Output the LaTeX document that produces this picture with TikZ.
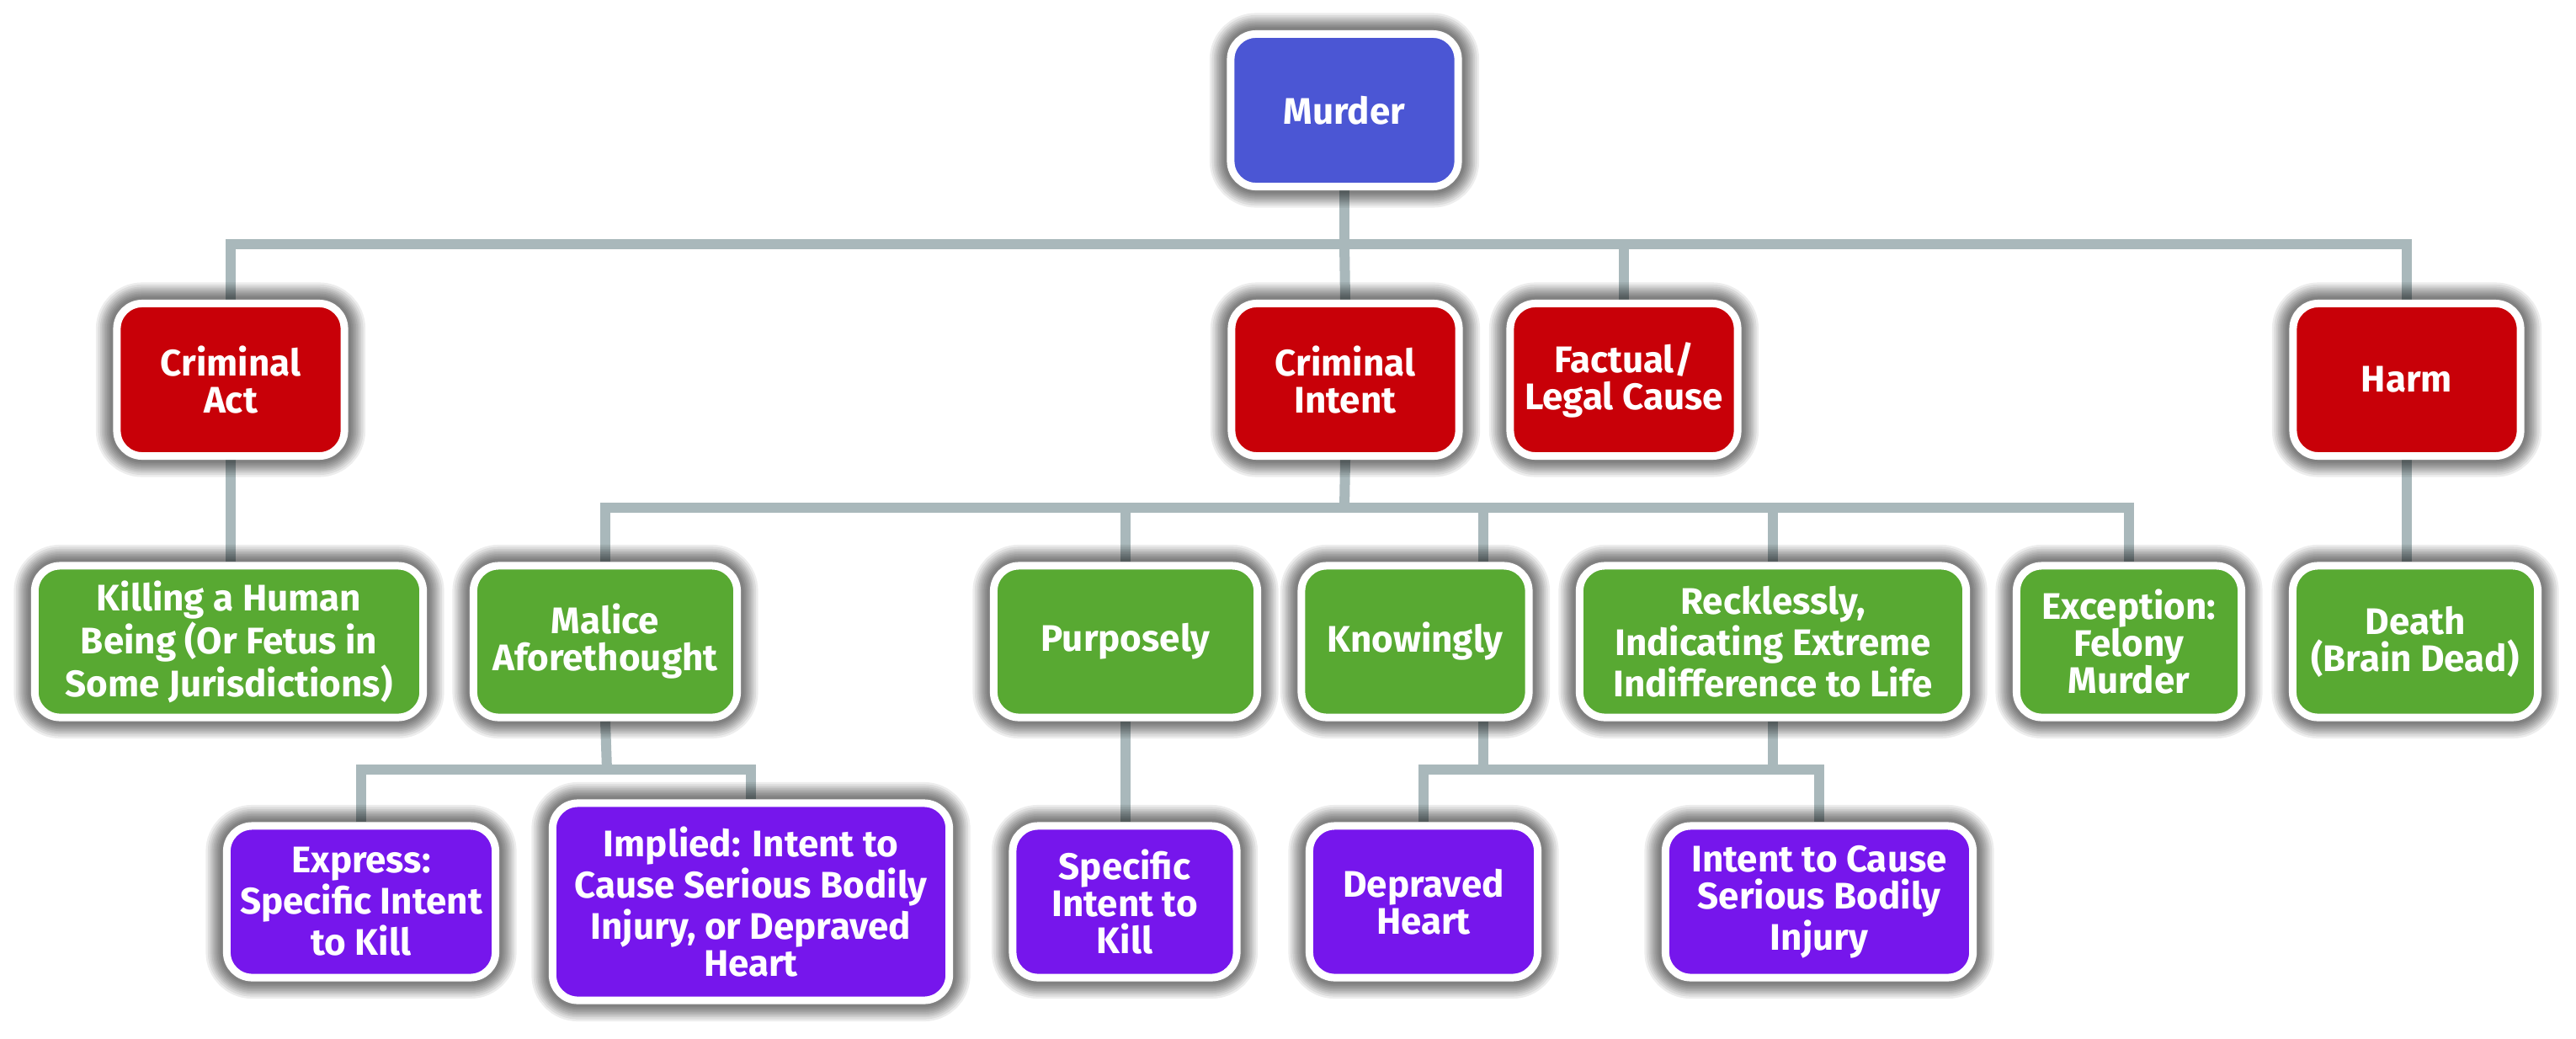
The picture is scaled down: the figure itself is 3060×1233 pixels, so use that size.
\documentclass[tikz,border=0pt]{standalone}
\usepackage{fontspec}
\setmainfont{Fira Sans}
\usepackage{tikz}
\usetikzlibrary{backgrounds}

\definecolor{murderblue}{RGB}{75,86,212}
\definecolor{elemred}{RGB}{200,0,8}
\definecolor{kindgreen}{RGB}{88,169,50}
\definecolor{formpurple}{RGB}{118,22,236}
\definecolor{linegray}{RGB}{169,184,187}

\tikzset{
  glow/.style={preaction={draw=black, line width=#1, opacity=0.07}},
  box/.style={rounded corners=0.3cm, draw=white, line width=0.09cm,
    text=white, align=center, inner sep=0pt,
    font=\fontsize{12.5}{12.5}\selectfont\bfseries,
    minimum width=2.7cm, minimum height=1.81cm,
    glow=0.50cm, glow=0.45cm, glow=0.40cm, glow=0.36cm,
    glow=0.32cm, glow=0.28cm, glow=0.24cm, glow=0.20cm, glow=0.16cm},
  topbox/.style={box, fill=murderblue},
  redbox/.style={box, fill=elemred},
  greenbox/.style={box, fill=kindgreen, minimum height=1.80cm},
  purplebox/.style={box, fill=formpurple, minimum height=1.80cm},
  conn/.style={draw=linegray, line width=0.12cm}
}

\begin{document}
\begin{tikzpicture}[x=0.01cm, y=-0.01cm]
        \useasboundingbox (0,0) rectangle (3060,1233);
        % top and elements
        \node [topbox] (murder) at (1597,131) {Murder};
        \node [redbox] (act) at (274,451) {Criminal\\Act};
        \node [redbox] (intent) at (1598,451) {Criminal\\Intent};
        \node [redbox] (cause) at (1929,451) {Factual/\\Legal Cause};
        \node [redbox] (harm) at (2859,451) {Harm};
        % second row
        \node [greenbox, minimum width=4.61cm] (killing) at (272,762) {Killing a Human\\Being (Or Fetus in\\Some Jurisdictions)};
        \node [greenbox, minimum width=3.13cm] (malice) at (719,762) {Malice\\Aforethought};
        \node [greenbox, minimum width=3.13cm] (purposely) at (1337,762) {Purposely};
        \node [greenbox, minimum width=2.70cm] (knowingly) at (1681,762) {Knowingly};
        \node [greenbox, minimum width=4.59cm] (reckless) at (2106,762) {Recklessly,\\Indicating Extreme\\Indifference to Life};
        \node [greenbox, minimum width=2.67cm] (exception) at (2529,762) {Exception:\\Felony\\Murder};
        \node [greenbox, minimum width=2.91cm] (death) at (2869,762) {Death\\(Brain Dead)};
        % third row
        \node [purplebox, minimum width=3.19cm] (express) at (429,1071) {Express:\\Specific Intent\\to Kill};
        \node [purplebox, minimum width=4.71cm, minimum height=2.34cm] (implied) at (892,1071) {Implied: Intent to\\Cause Serious Bodily\\Injury, or Depraved\\Heart};
        \node [purplebox, minimum width=2.66cm] (specific) at (1336,1071) {Specific\\Intent to\\Kill};
        \node [purplebox, minimum width=2.71cm] (depraved) at (1691,1071) {Depraved\\Heart};
        \node [purplebox, minimum width=3.65cm] (injury) at (2161,1071) {Intent to Cause\\Serious Bodily\\Injury};
        % connectors
        \coordinate (bar1) at (1597,290);
        \coordinate (bar2) at (1597,603);
        \coordinate (bar3) at (721,914);
        \coordinate (bar4) at (1925,914);
        \coordinate (kn) at (1762,603);
        \begin{scope}[on background layer]
        \fill [white] (0,0) rectangle (3060,1233);
        \draw [conn] (murder.south) -- (bar1);
        \draw [conn] (act.north) |- (bar1) -| (harm.north);
        \draw [conn] (bar1) -- (intent.north);
        \draw [conn] (bar1 -| cause.north) -- (cause.north);
        \draw [conn] (act.south) -- (act.south |- killing.north);
        \draw [conn] (harm.south) -- (harm.south |- death.north);
        \draw [conn] (intent.south) -- (bar2);
        \draw [conn] (malice.north) |- (bar2) -| (exception.north);
        \draw [conn] (bar2 -| purposely.north) -- (purposely.north);
        \draw [conn] (kn) -- (kn |- knowingly.north);
        \draw [conn] (bar2 -| reckless.north) -- (reckless.north);
        \draw [conn] (malice.south) -- (bar3);
        \draw [conn] (express.north) |- (bar3) -| (implied.north);
        \draw [conn] (purposely.south) -- (purposely.south |- specific.north);
        \draw [conn] (depraved.north) |- (bar4) -| (injury.north);
        \draw [conn] (kn |- knowingly.south) -- (kn |- bar4);
        \draw [conn] (reckless.south) -- (reckless.south |- bar4);
        \end{scope}
    \end{tikzpicture}
\end{document}
